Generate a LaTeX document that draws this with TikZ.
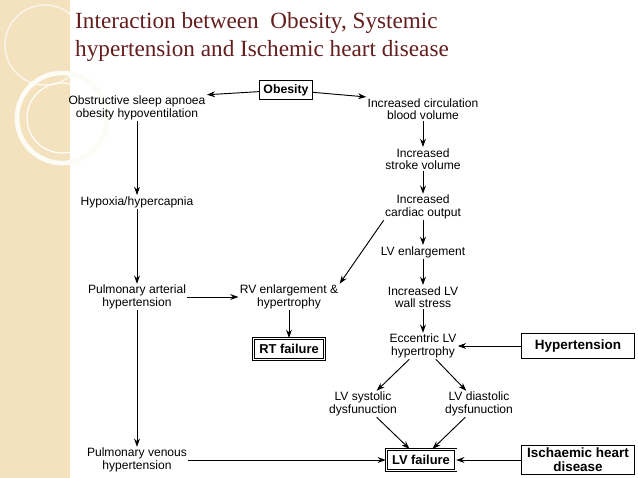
\documentclass[tikz,border=0pt]{standalone}
\usepackage{fontspec}
\setmainfont{Liberation Sans}
\newfontfamily\titlefont{Liberation Serif}
\usetikzlibrary{arrows.meta}
\definecolor{beige}{RGB}{244,226,190}
\definecolor{titlered}{RGB}{100,30,30}
\tikzset{
  lbl/.style={align=center, font=\fontsize{10.3}{10.6}\selectfont, inner sep=1pt},
  box/.style={lbl, draw, thick, font=\fontsize{10.5}{11}\selectfont\bfseries, inner sep=3pt},
  dbox/.style={box, double, double distance=1.3pt, inner sep=5pt, font=\fontsize{11}{11}\selectfont\bfseries},
  bigbox/.style={box, minimum width=3.4cm, font=\fontsize{11.5}{12}\selectfont\bfseries},
  arr/.style={-{Stealth[length=7pt,width=5pt]}, thick},
}
\begin{document}
\begin{tikzpicture}[x=0.03cm,y=-0.03cm]
  \useasboundingbox (0,0) rectangle (638,478);
  \fill[white] (0,0) rectangle (638,478);
  \fill[beige] (0,0) rectangle (70,478);
  \draw[white, line width=1.2pt, opacity=.7] (45,45) circle (40);
  \draw[white!85!beige, line width=4pt] (62,118) circle (45);
  \draw[white, line width=1pt] (62,118) circle (35);
  \node[anchor=north west, align=left, text=titlered, inner sep=0pt,
    font=\titlefont\fontsize{19.8}{24}\selectfont] (title) at (75,12)
    {Interaction between\ \ Obesity, Systemic\\hypertension and Ischemic heart disease};
  % nodes
  \node[box] (ob) at (286,90) {Obesity};
  \node[lbl] (osa) at (137,108) {Obstructive sleep apnoea\\obesity hypoventilation};
  \node[lbl] (circ) at (423,109) {Increased circulation\\blood volume};
  \node[lbl] (sv) at (423,159) {Increased\\stroke volume};
  \node[lbl] (co) at (423,207) {Increased\\cardiac output};
  \node[lbl] (hyp) at (137,202) {Hypoxia/hypercapnia};
  \node[lbl] (lve) at (423,252) {LV enlargement};
  \node[lbl] (pah) at (137,297) {Pulmonary arterial\\hypertension};
  \node[lbl] (rv) at (289,297) {RV enlargement \&\\hypertrophy};
  \node[lbl] (ws) at (423,297) {Increased LV\\wall stress};
  \node[dbox] (rt) at (289,349) {RT failure};
  \node[lbl] (ecc) at (423,346) {Eccentric LV\\hypertrophy};
  \node[bigbox, minimum height=0.75cm] (ht) at (578,346) {Hypertension};
  \node[lbl] (sys) at (363,404) {LV systolic\\dysfunuction};
  \node[lbl] (dia) at (479,404) {LV diastolic\\dysfunuction};
  \node[lbl] (pvh) at (137,460) {Pulmonary venous\\hypertension};
  \node[dbox] (lvf) at (421,460) {LV failure};
  \node[bigbox, inner sep=2pt] (ihd) at (578,460) {Ischaemic heart\\disease};
  % connectors
  \draw[arr] (ob) -- (osa.north east);
  \draw[arr] (ob) -- (circ.north west);
  \draw[arr] (circ) -- (sv);
  \draw[arr] (sv) -- (co);
  \draw[arr] (co) -- (lve);
  \draw[arr] (lve) -- (ws);
  \draw[arr] (ws) -- (ecc);
  \draw[arr] (co.south west) -- (rv.north east);
  \draw[arr] (osa) -- (hyp);
  \draw[arr] (hyp) -- (pah);
  \draw[arr] (pah) -- (pvh);
  \draw[arr] (pah) -- (rv);
  \draw[arr] (rv) -- (rt);
  \draw[arr] (ht) -- (ecc);
  \draw[arr] (ecc) -- (sys);
  \draw[arr] (ecc) -- (dia);
  \draw[arr] (sys) -- (lvf);
  \draw[arr] (dia) -- (lvf);
  \draw[arr] (ihd) -- (lvf);
  \draw[arr] (pvh) -- (lvf);
\end{tikzpicture}
\end{document}
